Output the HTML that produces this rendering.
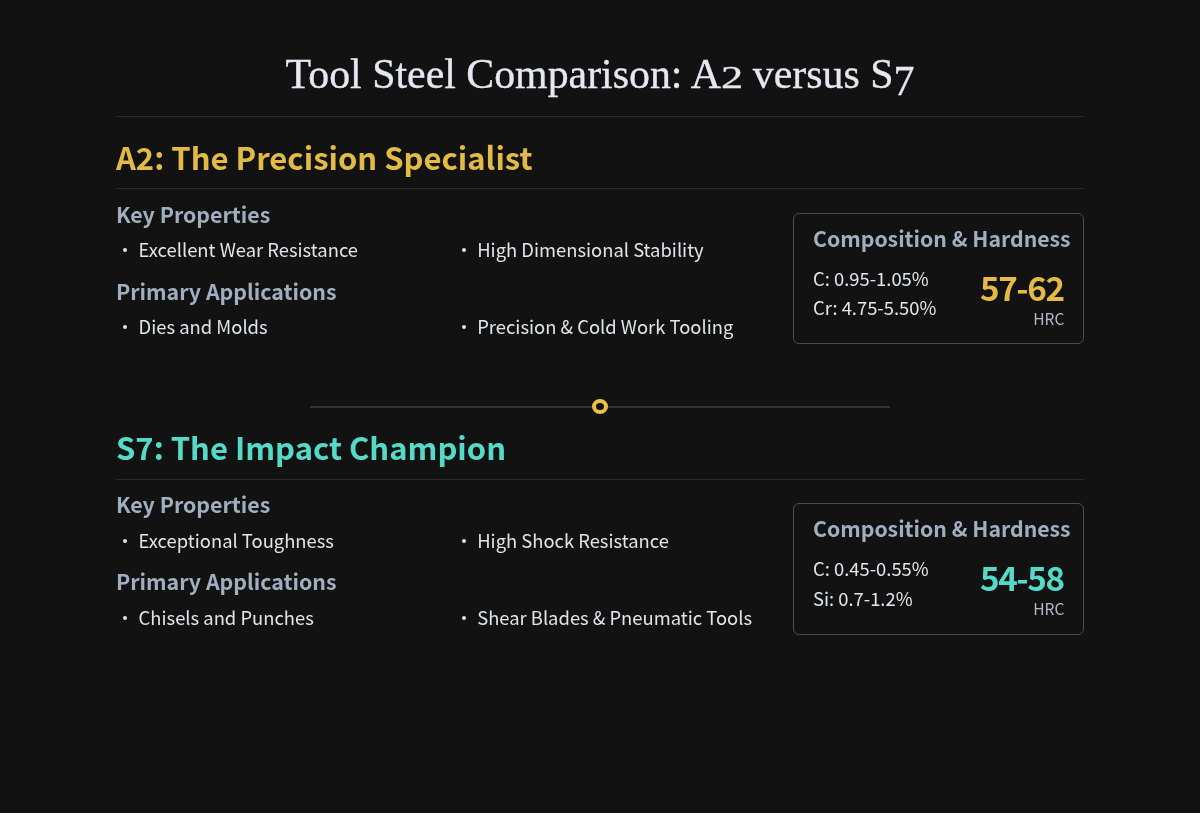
<!DOCTYPE html>
<html lang="en">
<head>
<meta charset="utf-8">
<title>Tool Steel Comparison: A2 versus S7</title>
<style>
*{box-sizing:border-box;margin:0;padding:0}
html,body{width:1200px;height:813px;background:#121212;overflow:hidden}
body{font-family:"Noto Sans CJK SC","Liberation Sans",sans-serif;color:#e2e4e9;position:relative}
.wrap{position:absolute;left:116px;top:0;width:968px}
h1{font-family:"Liberation Serif","Noto Serif CJK SC",serif;font-weight:400;font-size:41.85px;line-height:48px;text-align:center;color:#e4e8f0;-webkit-text-stroke:0.35px #e4e8f0;position:absolute;left:0;width:968px;top:49.6px;white-space:nowrap}
h1 .o2{display:inline-block;font-size:32.6px;line-height:1;width:21.5px;text-align:left;transform:scaleX(1.36);transform-origin:0 100%}
h1 .o7{position:relative;top:7.6px}
.hr1{position:absolute;left:0;width:968px;top:116px;height:1px;background:#2b2b2c}
.sec{position:absolute;left:0;width:968px}
.sec h2{position:absolute;left:0;top:0;font-size:31px;line-height:40px;font-weight:700;white-space:nowrap}
.sec .hr2{position:absolute;left:0;width:968px;top:51px;height:1px;background:#2a2a2b}
.gold{color:#e3ba45}
.teal{color:#55dac8}
h3{position:absolute;left:0;font-size:21.35px;line-height:28px;font-weight:700;color:#a0aec0;white-space:nowrap}
.li{position:absolute;font-size:18.4px;line-height:26px;white-space:nowrap;color:#e2e4e9}
.li i{position:absolute;left:-15.6px;top:12px;width:4px;height:4px;border-radius:50%;background:#e2e4e9}
.card{position:absolute;left:677px;width:291px;height:131px;border:1px solid #4c4c54;border-radius:6px}
.card h4{position:absolute;left:19px;top:10px;font-size:21.25px;line-height:28px;font-weight:700;color:#a0aec0;white-space:nowrap}
.card .c{position:absolute;left:19px;font-size:18.4px;line-height:26px;white-space:nowrap;color:#e2e4e9}
.card .big{position:absolute;right:19.4px;top:53.4px;font-size:33.2px;letter-spacing:-1.4px;line-height:40px;font-weight:700;white-space:nowrap}
.card .u{position:absolute;right:18.6px;top:93.8px;font-size:15.6px;line-height:20px;color:#b0b8c8;white-space:nowrap}
.div{position:absolute;left:194px;width:580px;top:406px;height:2px;background:#323232}
.ring{position:absolute;left:475.8px;top:398.6px;width:16.4px;height:15.7px;border-radius:50%;border:4.4px solid #e9c148;background:#121212}
</style>
</head>
<body>
<div class="wrap">
<h1>Tool Steel Comparison: A<span class="o2">2</span> versus S<span class="o7">7</span></h1>
<div class="hr1"></div>

<div class="sec" style="top:137px">
<h2 class="gold">A2: The Precision Specialist</h2>
<div class="hr2"></div>
<h3 style="top:63px">Key Properties</h3>
<div class="li" style="left:22.6px;top:99px"><i></i>Excellent Wear Resistance</div>
<div class="li" style="left:361.2px;top:99px"><i></i>High Dimensional Stability</div>
<h3 style="top:140px">Primary Applications</h3>
<div class="li" style="left:22.6px;top:176px"><i></i>Dies and Molds</div>
<div class="li" style="left:361.2px;top:176px"><i></i>Precision &amp; Cold Work Tooling</div>
<div class="card" style="top:76px">
<h4>Composition &amp; Hardness</h4>
<div class="c" style="top:50.7px">C: 0.95-1.05%</div>
<div class="c" style="top:80.1px">Cr: 4.75-5.50%</div>
<div class="big gold">57-62</div>
<div class="u">HRC</div>
</div>
</div>

<div class="div"></div>
<div class="ring"></div>

<div class="sec" style="top:427px">
<h2 class="teal">S7: The Impact Champion</h2>
<div class="hr2" style="top:52px"></div>
<h3 style="top:63px">Key Properties</h3>
<div class="li" style="left:22.6px;top:100px"><i></i>Exceptional Toughness</div>
<div class="li" style="left:361.2px;top:100px"><i></i>High Shock Resistance</div>
<h3 style="top:140px">Primary Applications</h3>
<div class="li" style="left:22.6px;top:177px"><i></i>Chisels and Punches</div>
<div class="li" style="left:361.2px;top:177px"><i></i>Shear Blades &amp; Pneumatic Tools</div>
<div class="card" style="top:76px;height:132px">
<h4>Composition &amp; Hardness</h4>
<div class="c" style="top:51.2px">C: 0.45-0.55%</div>
<div class="c" style="top:80.6px">Si: 0.7-1.2%</div>
<div class="big teal">54-58</div>
<div class="u">HRC</div>
</div>
</div>
</div>
</body>
</html>
